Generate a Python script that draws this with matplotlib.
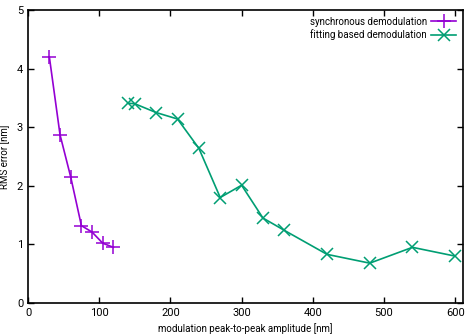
import numpy as np
import matplotlib
matplotlib.use("Agg")
import matplotlib.pyplot as plt

plt.rcParams['font.family'] = ['Roboto', 'DejaVu Sans']

# synchronous demodulation
sync_x = [30, 45, 60, 75, 90, 105, 120]
sync_y = [4.20, 2.87, 2.15, 1.32, 1.21, 1.02, 0.95]

# fitting based demodulation
fit_x = [140, 150, 180, 210, 240, 270, 300, 330, 360, 420, 480, 540, 600]
fit_y = [3.41, 3.40, 3.25, 3.14, 2.64, 1.80, 2.01, 1.45, 1.24, 0.83, 0.68, 0.95, 0.80]

fig = plt.figure(figsize=(4.74, 3.34), dpi=100)
ax = fig.add_axes([28/474, 1 - 303/334, (463-28)/474, (303-10)/334])

ax.plot(sync_x, sync_y, color='#9400d3', marker='+', markersize=10, markeredgewidth=1.1,
        linewidth=1.2, label='synchronous demodulation')
ax.plot(fit_x, fit_y, color='#009e73', marker='x', markersize=9, markeredgewidth=1.1,
        linewidth=1.2, label='fitting based demodulation')

ax.set_xlim(0, 611)
ax.set_ylim(0, 5)
ax.set_xticks([0, 100, 200, 300, 400, 500, 600])
ax.set_yticks([0, 1, 2, 3, 4, 5])
ax.tick_params(direction='in', top=True, right=True, labelsize=8, length=4, width=1)
for s in ax.spines.values():
    s.set_linewidth(1.2)

ax.set_xlabel('modulation peak-to-peak amplitude [nm]', fontsize=7, labelpad=4)
ax.set_ylabel('RMS error [nm]', fontsize=7, labelpad=5)

ax.legend(loc='upper right', frameon=False, markerfirst=False, fontsize=7,
          handlelength=2.6, borderaxespad=0.3, labelspacing=0.25, handletextpad=0.4)

fig.savefig('out.png', dpi=100)
